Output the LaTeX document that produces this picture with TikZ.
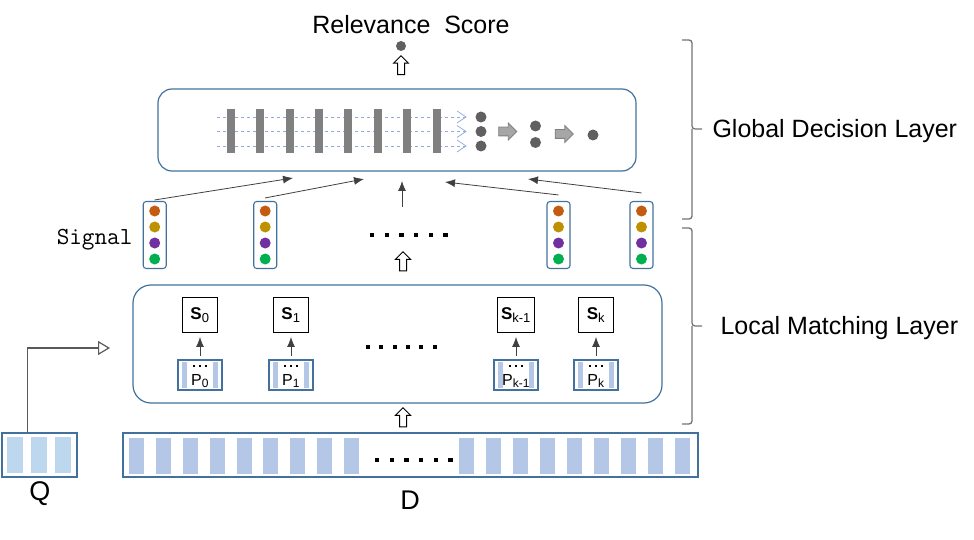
\documentclass[tikz,border=0pt]{standalone}
\usepackage{fontspec}
\setmainfont{Liberation Sans}
\usetikzlibrary{shapes.arrows,arrows.meta}
\definecolor{boxblue}{RGB}{65,113,156}
\definecolor{barblue}{RGB}{180,199,231}
\definecolor{qblue}{RGB}{189,215,238}
\definecolor{dotgray}{RGB}{96,96,96}
\definecolor{bargray}{RGB}{128,128,128}
\definecolor{flowblue}{RGB}{143,170,220}
\definecolor{sigorange}{RGB}{197,90,17}
\definecolor{siggold}{RGB}{191,144,0}
\definecolor{sigpurple}{RGB}{112,48,160}
\definecolor{siggreen}{RGB}{0,176,80}
\begin{document}
\begin{tikzpicture}[x=1pt,y=-1pt,
  layerbox/.style={draw=boxblue, line width=1.2pt, rounded corners=14pt},
  signalbox/.style={draw=boxblue, line width=1.1pt, rounded corners=3pt, minimum width=23pt, minimum height=67pt},
  scorebox/.style={draw, line width=0.9pt, minimum size=35pt, font=\fontsize{17}{18}\selectfont},
  patchbox/.style={draw=boxblue, line width=1.2pt, minimum width=44pt, minimum height=30pt},
  hollowarrow/.style={single arrow, draw, fill=white, line width=1pt, rotate=90, minimum height=19pt, inner sep=3pt, single arrow head extend=4pt},
  grayarrow/.style={single arrow, draw=gray, fill=gray!70, line width=0.8pt, minimum height=18pt, inner sep=4pt, single arrow head extend=4pt},
  feed/.style={draw=black!75, line width=0.8pt, -{Latex[length=10pt,width=8pt]}},
  bracket/.style={draw=black!55, line width=1.3pt, rounded corners=3pt},
  bigtext/.style={font=\fontsize{25}{28}\selectfont}]
\useasboundingbox (0,0) rectangle (974,540);

% global decision layer
\node[layerbox, minimum width=478pt, minimum height=82pt] (global) at (397,130) {};
\foreach \y in {117,131.5,146}{
  \draw[flowblue, dashed, line width=0.7pt] (217,\y) -- (466,\y);
  \draw[flowblue, line width=0.7pt] (457,\y-6) -- (466,\y) -- (457,\y+6);
}
\foreach \i in {0,...,7}
  \fill[bargray] (226.7+29.4*\i,109) rectangle ++(8,44);
\foreach \y in {117,131.5,146}
  \fill[dotgray] (481,\y) circle (5.5);
\node[grayarrow] (ga1) at (505.5,131.5) {};
\fill[dotgray] (535.5,126) circle (5.5) (535.5,142.5) circle (5.5);
\node[grayarrow] (ga2) at (562,134) {};
\fill[dotgray] (593,135) circle (5.5);

% score
\node[bigtext] (rel) at (411,25) {Relevance\ \ Score};
\fill[dotgray] (401,46) circle (5);
\node[hollowarrow] (up1) at (401,67) {};

% signals
\node[font=\ttfamily\fontsize{24.5}{26}\selectfont, anchor=east] (signal) at (136,240) {Signal};
\foreach \n/\x in {1/154.7,2/265.2,3/558.5,4/641.5}{
  \node[signalbox] (sig\n) at (\x,235) {};
  \fill[sigorange] (\x,211) circle (5.5);
  \fill[siggold] (\x,227) circle (5.5);
  \fill[sigpurple] (\x,243) circle (5.5);
  \fill[siggreen] (\x,259) circle (5.5);
}
\coordinate (g1) at (293,178);
\coordinate (g2) at (364,179);
\coordinate (g3) at (402,181);
\coordinate (g4) at (445,182);
\coordinate (g5) at (528,179);
\coordinate (mid) at (402,207);
\draw[feed] ([yshift=1pt]sig1.north) -- (g1);
\draw[feed] ([yshift=3pt]sig2.north) -- (g2);
\draw[feed] (mid) -- (g3);
\draw[feed] ([yshift=6pt]sig3.north) -- (g4);
\draw[feed] ([yshift=8pt]sig4.north) -- (g5);
\foreach \i in {0,...,5}
  \fill (372+14.7*\i-2.2,235-2.2) rectangle ++(4.4,4.4);
\node[hollowarrow] (up2) at (403,263) {};

% local matching layer
\node[layerbox, rounded corners=18pt, minimum width=529pt, minimum height=118pt] (local) at (397.5,344) {};
\foreach \n/\x/\s in {0/200/0,1/291/1,2/516/{k-1},3/596/k}{
  \node[scorebox] (s\n) at (\x,315) {\textbf{S}\textsubscript{\fontsize{13}{13}\selectfont\s}};
  \node[patchbox] (p\n) at (\x,375) {};
  \fill[barblue] (\x-18,362) rectangle ++(5,26);
  \fill[barblue] (\x+13,362) rectangle ++(5,26);
  \foreach \d in {-6,0,6}
    \fill (\x+\d-1.2,366-1.2) rectangle ++(2.4,2.4);
  \node[font=\fontsize{16}{16}\selectfont, inner sep=0pt] at (\x,381) {P\textsubscript{\fontsize{12}{12}\selectfont\s}};
  \draw[feed, shorten <=3pt, shorten >=4pt] (p\n) -- (s\n);
}
\foreach \i in {0,...,5}
  \fill (368+13.3*\i-2,347-2) rectangle ++(4,4);
\node[hollowarrow] (up3) at (403,419) {};

% inputs
\node[draw=boxblue, line width=1.3pt, minimum width=75pt, minimum height=44pt] (qbox) at (39.5,455) {};
\foreach \x in {6.7,31,55}
  \fill[qblue] (\x,437) rectangle ++(16,36);
\node[draw=boxblue, line width=1.3pt, minimum width=575pt, minimum height=44pt] (dbox) at (410.5,455) {};
\foreach \i in {0,...,8}{
  \fill[barblue] (129.3+26.8*\i,438) rectangle ++(15,36);
  \fill[barblue] (459+27*\i,438) rectangle ++(15,36);
}
\foreach \i in {0,...,5}
  \fill (377+14.7*\i-2.2,460-2.2) rectangle ++(4.4,4.4);
\node[font=\fontsize{27}{28}\selectfont] (qlabel) at (40,494) {Q};
\node[font=\fontsize{27}{28}\selectfont] (dlabel) at (410,500) {D};
\coordinate (qtip) at (110,348);
\draw[black!65, line width=1.2pt, -{Triangle[open, length=12pt, width=14pt]}] ([xshift=26pt]qbox.north west) |- (qtip);

% brackets
\draw[bracket] (682,40) -- (692,40) -- (692,129) -- (702,129);
\draw[bracket] (692,129) -- (692,219) -- (682,219);
\draw[bracket] (682,228) -- (692,228) -- (692,326) -- (702,326);
\draw[bracket] (692,326) -- (692,424) -- (682,424);
\node[bigtext, anchor=west] (glabel) at (709,131) {Global Decision Layer};
\node[bigtext, anchor=west] (llabel) at (717,328) {Local Matching Layer};
\end{tikzpicture}
\end{document}
